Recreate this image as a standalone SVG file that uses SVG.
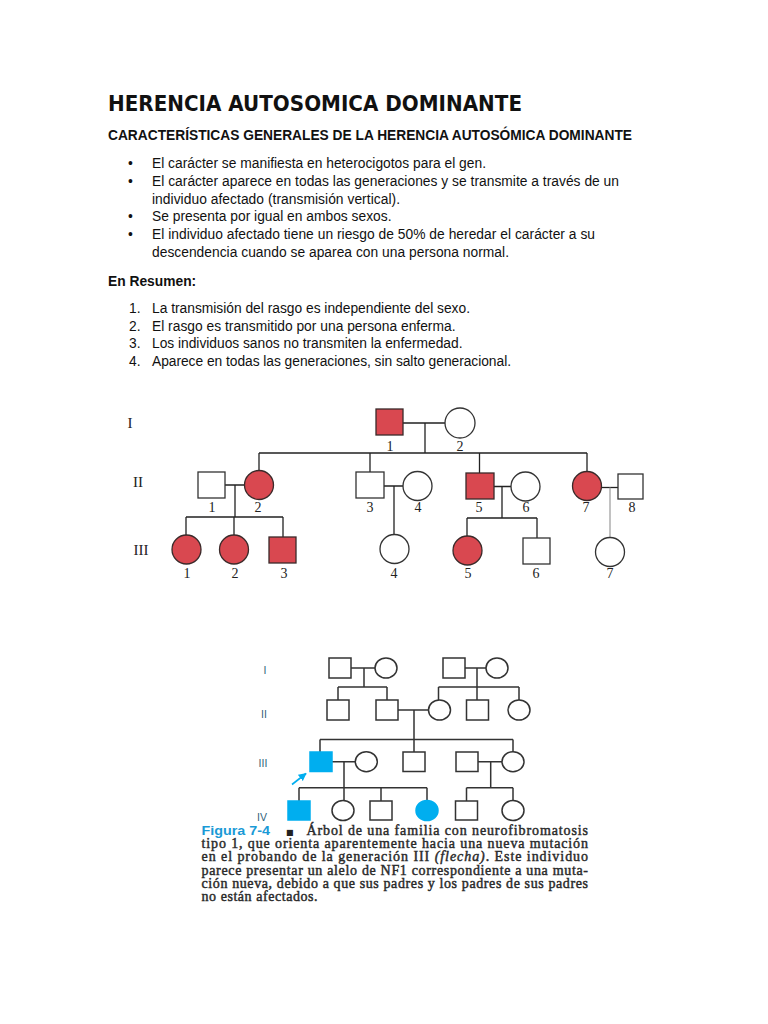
<svg xmlns="http://www.w3.org/2000/svg" width="768" height="1024" viewBox="0 0 768 1024">
<style>
.title{font-family:"DejaVu Sans",sans-serif;font-weight:bold;font-size:20.5px;fill:#111}
.sub{font-family:"Liberation Sans",Arial,sans-serif;font-weight:bold;font-size:14px;fill:#111}
.body{font-family:"Liberation Sans",Arial,sans-serif;font-size:13.8px;fill:#111}
.bodyb{font-family:"Liberation Sans",Arial,sans-serif;font-size:13.8px;font-weight:bold;fill:#111}
.num{font-family:"Liberation Serif","Times New Roman",serif;font-size:14px;fill:#222;text-anchor:middle}
.gen{font-family:"Liberation Serif","Times New Roman",serif;font-size:15px;fill:#222;text-anchor:middle}
.gen2{font-family:"Liberation Sans",Arial,sans-serif;font-size:10.5px;fill:#2f5f7a;text-anchor:middle}
.cap{font-family:"Liberation Serif","Times New Roman",serif;font-size:14px;fill:#2a2a2a;stroke:#2a2a2a;stroke-width:0.45}
.capb{font-family:"Liberation Sans",Arial,sans-serif;font-size:13.5px;font-weight:bold;fill:#1a9ad6}
.p1{fill:#fff;stroke:#333;stroke-width:1.3}
.p1a{fill:#d94850;stroke:#3a2a2a;stroke-width:1.3}
.p2{fill:#fff;stroke:#333;stroke-width:1.5}
.p2a{fill:#00aeef;stroke:#00aeef;stroke-width:1.5}
.l1{fill:none;stroke:#222;stroke-width:1.3}
.l1g{fill:none;stroke:#999;stroke-width:1.2}
.l2{fill:none;stroke:#333;stroke-width:1.5}
</style>
<defs>
<marker id="ah" viewBox="0 0 10 10" refX="9" refY="5" markerWidth="5" markerHeight="5" orient="auto">
<path d="M0,0 L10,5 L0,10 z" fill="#00aeef"/>
</marker>
</defs>
<rect width="768" height="1024" fill="#fff"/>

<g id="text">
<text class="title" x="108" y="110.5" textLength="414" lengthAdjust="spacingAndGlyphs">HERENCIA AUTOSOMICA DOMINANTE</text>
<text class="sub" x="108" y="139.5" textLength="524" lengthAdjust="spacingAndGlyphs">CARACTERÍSTICAS GENERALES DE LA HERENCIA AUTOSÓMICA DOMINANTE</text>
<text class="body" x="128" y="168">•</text>
<text class="body" x="152" y="168" textLength="334">El carácter se manifiesta en heterocigotos para el gen.</text>
<text class="body" x="128" y="186">•</text>
<text class="body" x="152" y="186" textLength="467">El carácter aparece en todas las generaciones y se transmite a través de un</text>
<text class="body" x="152" y="203.5" textLength="248">individuo afectado (transmisión vertical).</text>
<text class="body" x="128" y="221">•</text>
<text class="body" x="152" y="221" textLength="239.5">Se presenta por igual en ambos sexos.</text>
<text class="body" x="128" y="239">•</text>
<text class="body" x="152" y="239" textLength="443">El individuo afectado tiene un riesgo de 50% de heredar el carácter a su</text>
<text class="body" x="152" y="256.5" textLength="357">descendencia cuando se aparea con una persona normal.</text>
<text class="bodyb" x="108" y="286">En Resumen:</text>
<text class="body" x="129" y="313">1.</text>
<text class="body" x="152" y="313" textLength="318">La transmisión del rasgo es independiente del sexo.</text>
<text class="body" x="129" y="330.5">2.</text>
<text class="body" x="152" y="330.5" textLength="303.5">El rasgo es transmitido por una persona enferma.</text>
<text class="body" x="129" y="348">3.</text>
<text class="body" x="152" y="348" textLength="310.5">Los individuos sanos no transmiten la enfermedad.</text>
<text class="body" x="129" y="365.5">4.</text>
<text class="body" x="152" y="365.5" textLength="359">Aparece en todas las generaciones, sin salto generacional.</text>
</g>

<g id="ped1-labels">
<text class="gen" x="130" y="428">I</text>
<text class="gen" x="138" y="487">II</text>
<text class="gen" x="141" y="555">III</text>
</g>

<g id="ped1-connectors">
<path class="l1" d="M403 423 H445 M425 423 V453 M259 453 H587 M259 453 V470.5 M370 453 V472 M479.5 453 V473 M587 453 V471.5"/>
<path class="l1" d="M225 485 H244.5 M235 485 V517 M186 517 H283 M186 517 V535 M234 517 V535 M283 517 V537"/>
<path class="l1" d="M384 486 H403 M394 486 V534.5"/>
<path class="l1" d="M494 486.5 H511 M502 486.5 V518 M467 518 H537 M467 518 V536 M537 518 V538"/>
<path class="l1" d="M601 487.5 H618"/>
<path class="l1g" d="M610 487.5 V537.5"/>
</g>

<g id="p1-I1"><rect class="p1a" x="376" y="409" width="27" height="26"/><text class="num" x="390" y="451">1</text></g>
<g id="p1-I2"><circle class="p1" cx="460" cy="423" r="15"/><text class="num" x="460" y="451">2</text></g>
<g id="p1-II1"><rect class="p1" x="198" y="472" width="27" height="26"/><text class="num" x="212" y="512">1</text></g>
<g id="p1-II2"><circle class="p1a" cx="259" cy="485" r="14.5"/><text class="num" x="258" y="512">2</text></g>
<g id="p1-II3"><rect class="p1" x="356" y="472" width="28" height="26"/><text class="num" x="370" y="512">3</text></g>
<g id="p1-II4"><circle class="p1" cx="417.5" cy="486" r="14.5"/><text class="num" x="418" y="512">4</text></g>
<g id="p1-II5"><rect class="p1a" x="466" y="473" width="28" height="26"/><text class="num" x="479" y="512">5</text></g>
<g id="p1-II6"><circle class="p1" cx="525.5" cy="486.5" r="14.5"/><text class="num" x="526" y="512">6</text></g>
<g id="p1-II7"><circle class="p1a" cx="587" cy="486" r="14.5"/><text class="num" x="586" y="512">7</text></g>
<g id="p1-II8"><rect class="p1" x="618" y="474" width="25" height="25"/><text class="num" x="632" y="512">8</text></g>
<g id="p1-III1"><circle class="p1a" cx="186.5" cy="549.5" r="14.5"/><text class="num" x="187" y="578">1</text></g>
<g id="p1-III2"><circle class="p1a" cx="234" cy="549.5" r="14.5"/><text class="num" x="235" y="578">2</text></g>
<g id="p1-III3"><rect class="p1a" x="269" y="537" width="27" height="26"/><text class="num" x="284" y="578">3</text></g>
<g id="p1-III4"><circle class="p1" cx="394.5" cy="549" r="14.5"/><text class="num" x="394" y="578">4</text></g>
<g id="p1-III5"><circle class="p1a" cx="467.5" cy="550.5" r="14.5"/><text class="num" x="468" y="578">5</text></g>
<g id="p1-III6"><rect class="p1" x="523" y="538" width="27" height="26"/><text class="num" x="536" y="578">6</text></g>
<g id="p1-III7"><circle class="p1" cx="610" cy="552" r="14.5"/><text class="num" x="610" y="578">7</text></g>

<g id="ped2-labels">
<text class="gen2" x="265" y="674">I</text>
<text class="gen2" x="264" y="718">II</text>
<text class="gen2" x="263" y="767">III</text>
<text class="gen2" x="262" y="820.5">IV</text>
</g>

<g id="ped2-connectors">
<path class="l2" d="M351 668 H375 M364 668 V687 M338 687 H387 M338 687 V700 M387 687 V700"/>
<path class="l2" d="M465 668 H486 M477 668 V700 M438.5 687 H519 M438.5 687 V700 M519 687 V700"/>
<path class="l2" d="M398 710 H428.5 M414 710 V752 M320 739.5 H513 M320 739.5 V752 M513 739.5 V751.7"/>
<path class="l2" d="M332 761.7 H355.3 M344 761.7 V800.5 M299 787.7 H427 M299 787.7 V801 M381 787.7 V801 M427 787.7 V800.5"/>
<path class="l2" d="M478 761.7 H502 M490.7 761.7 V787.7 M466.5 787.7 H513 M466.5 787.7 V801 M513 787.7 V800.5"/>
<path fill="none" stroke="#00aeef" stroke-width="1.6" d="M292 784.5 L306 773.5" marker-end="url(#ah)"/>
</g>

<g id="p2-I1"><rect class="p2" x="329" y="658" width="22" height="20"/></g>
<g id="p2-I2"><ellipse class="p2" cx="386" cy="668" rx="11" ry="10"/></g>
<g id="p2-I3"><rect class="p2" x="443" y="658" width="22" height="20"/></g>
<g id="p2-I4"><ellipse class="p2" cx="497" cy="668" rx="11" ry="10"/></g>
<g id="p2-II1"><rect class="p2" x="327" y="700" width="22" height="20"/></g>
<g id="p2-II2"><rect class="p2" x="376" y="700" width="22" height="20"/></g>
<g id="p2-II3"><ellipse class="p2" cx="439.5" cy="710" rx="11" ry="10"/></g>
<g id="p2-II4"><rect class="p2" x="466.5" y="700" width="22" height="20"/></g>
<g id="p2-II5"><ellipse class="p2" cx="519" cy="710" rx="11" ry="10"/></g>
<g id="p2-III1"><rect class="p2a" x="310" y="752" width="22" height="19.5"/></g>
<g id="p2-III2"><ellipse class="p2" cx="366.3" cy="761.7" rx="11" ry="10"/></g>
<g id="p2-III3"><rect class="p2" x="403" y="752" width="22" height="19.5"/></g>
<g id="p2-III4"><rect class="p2" x="456" y="752" width="22" height="19.5"/></g>
<g id="p2-III5"><ellipse class="p2" cx="513" cy="761.7" rx="11" ry="10"/></g>
<g id="p2-IV1"><rect class="p2a" x="288" y="801" width="22" height="19"/></g>
<g id="p2-IV2"><ellipse class="p2" cx="343" cy="810.5" rx="11" ry="10"/></g>
<g id="p2-IV3"><rect class="p2" x="370" y="801" width="22" height="19"/></g>
<g id="p2-IV4"><ellipse class="p2a" cx="427" cy="810.5" rx="11" ry="10"/></g>
<g id="p2-IV5"><rect class="p2" x="455.5" y="801" width="22" height="19"/></g>
<g id="p2-IV6"><ellipse class="p2" cx="513" cy="810.5" rx="11" ry="10"/></g>

<g id="caption">
<text class="capb" x="201.5" y="835" textLength="68.5" lengthAdjust="spacingAndGlyphs">Figura 7-4</text>
<text x="286" y="834.5" font-family="DejaVu Sans,sans-serif" font-size="8" fill="#222">■</text>
<text class="cap" x="306.5" y="835" textLength="281.5">Árbol de una familia con neurofibromatosis</text>
<text class="cap" x="201.5" y="848.2" textLength="386.5">tipo 1, que orienta aparentemente hacia una nueva mutación</text>
<text class="cap" x="201.5" y="861.4" textLength="386.5">en el probando de la generación III <tspan font-style="italic">(flecha)</tspan>. Este individuo</text>
<text class="cap" x="201.5" y="874.6" textLength="386.5">parece presentar un alelo de NF1 correspondiente a una muta-</text>
<text class="cap" x="201.5" y="887.8" textLength="386.5">ción nueva, debido a que sus padres y los padres de sus padres</text>
<text class="cap" x="201.5" y="901" textLength="116">no están afectados.</text>
</g>
</svg>
